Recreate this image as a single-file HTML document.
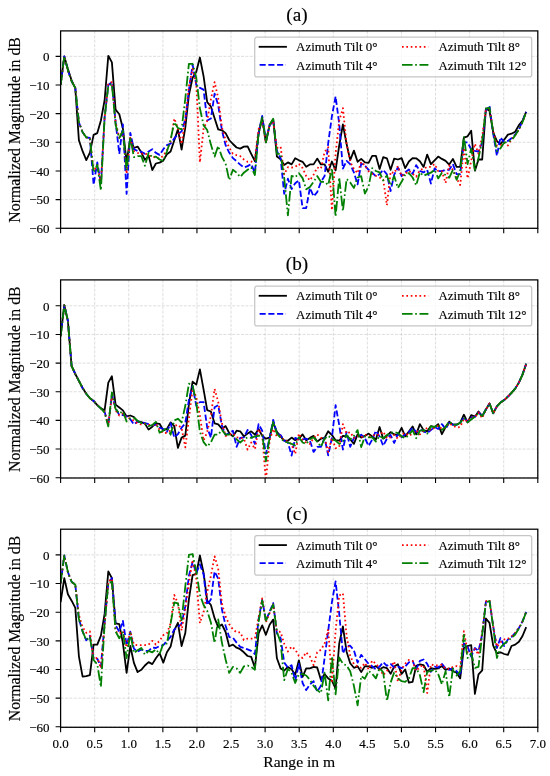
<!DOCTYPE html>
<html lang="en"><head><meta charset="utf-8"><title>Normalized Magnitude vs Range</title>
<style>html,body{margin:0;padding:0;background:#fff}svg{display:block}text{stroke:#000;stroke-width:.16px;stroke-linejoin:round}</style></head>
<body>
<svg width="550" height="776" viewBox="0 0 550 776" font-family='"Liberation Serif", "DejaVu Serif", serif'>
<rect width="550" height="776" fill="#fff"/>
<g>
<clipPath id="cp0"><rect x="60.6" y="30.9" width="477.2" height="197.4"/></clipPath>
<path d="M60.60 30.9V228.3M94.69 30.9V228.3M128.77 30.9V228.3M162.86 30.9V228.3M196.94 30.9V228.3M231.03 30.9V228.3M265.11 30.9V228.3M299.20 30.9V228.3M333.29 30.9V228.3M367.37 30.9V228.3M401.46 30.9V228.3M435.54 30.9V228.3M469.63 30.9V228.3M503.71 30.9V228.3M537.80 30.9V228.3M60.6 56.35H537.8M60.6 85.00H537.8M60.6 113.65H537.8M60.6 142.30H537.8M60.6 170.95H537.8M60.6 199.60H537.8M60.6 228.25H537.8" stroke="#b0b0b0" stroke-opacity="0.6" stroke-width="0.7" stroke-dasharray="3 1.4" fill="none"/>
<g clip-path="url(#cp0)" fill="none" stroke-linejoin="round">
<polyline points="60.6,85.0 64.3,56.4 67.9,69.0 71.6,80.4 75.3,88.4 78.9,140.3 82.6,151.2 86.3,160.1 89.9,152.6 93.6,134.9 97.3,133.1 100.9,120.5 104.6,100.2 108.3,55.8 111.9,62.4 115.6,109.6 119.3,114.2 122.9,128.5 126.6,162.4 130.3,138.0 133.9,148.0 137.6,146.6 141.3,152.3 144.9,159.8 148.6,155.8 152.3,170.1 155.9,163.5 159.6,162.6 163.3,160.6 166.9,154.3 170.6,151.5 174.3,140.3 177.9,129.4 181.6,149.7 185.3,127.7 188.9,95.0 192.6,77.8 196.3,71.8 199.9,57.5 203.6,76.4 207.2,102.2 210.9,106.5 214.6,118.2 218.2,129.4 221.9,130.3 225.6,133.1 229.2,140.0 232.9,144.0 236.6,147.5 240.2,148.6 243.9,146.6 247.6,146.3 251.2,153.8 254.9,161.2 258.6,133.7 262.2,117.9 265.9,142.3 269.6,125.1 273.2,119.4 276.9,156.6 280.6,159.2 284.2,164.9 287.9,162.4 291.6,164.4 295.2,158.3 298.9,160.3 302.6,161.8 306.2,166.7 309.9,164.4 313.6,164.4 317.2,158.6 320.9,164.4 324.6,164.4 328.2,171.8 331.9,161.5 335.6,170.4 339.2,145.5 342.9,124.5 346.6,144.0 350.2,160.1 353.9,150.6 357.6,161.8 361.2,158.9 364.9,162.4 368.6,162.9 372.2,155.8 375.9,155.8 379.6,168.9 383.2,157.2 386.9,158.3 390.6,169.8 394.2,158.6 397.9,159.5 401.6,158.1 405.2,168.1 408.9,161.5 412.6,158.1 416.2,158.3 419.9,161.2 423.6,166.9 427.2,154.6 430.9,164.1 434.6,160.3 438.2,156.6 441.9,158.9 445.6,160.9 449.2,164.6 452.9,158.9 456.6,166.9 460.2,166.9 463.9,137.7 467.6,136.3 471.2,130.8 474.9,170.7 478.5,159.5 482.2,159.5 485.9,108.5 489.5,110.8 493.2,132.3 496.9,141.2 500.5,144.0 504.2,139.7 507.9,134.6 511.5,133.7 515.2,131.7 518.9,125.1 522.5,120.8 526.2,111.9" stroke="#000" stroke-width="1.8"/>
<polyline points="60.6,85.0 64.3,56.4 67.9,70.4 71.6,81.3 75.3,87.9 78.9,122.2 82.6,132.3 86.3,137.4 89.9,138.0 93.6,184.7 97.3,162.4 100.9,183.8 104.6,117.7 108.3,85.0 111.9,82.1 115.6,122.2 119.3,153.8 122.9,124.5 126.6,193.9 130.3,132.8 133.9,149.2 137.6,150.9 141.3,151.8 144.9,153.8 148.6,151.5 152.3,149.2 155.9,152.9 159.6,154.9 163.3,149.2 166.9,145.2 170.6,143.7 174.3,138.3 177.9,134.3 181.6,131.4 185.3,119.4 188.9,90.2 192.6,64.7 196.3,85.0 199.9,87.9 203.6,89.6 207.2,120.5 210.9,118.5 214.6,93.6 218.2,105.1 221.9,130.3 225.6,145.2 229.2,152.6 232.9,158.1 236.6,161.2 240.2,164.6 243.9,167.5 247.6,166.1 251.2,164.1 254.9,172.7 258.6,132.8 262.2,115.9 265.9,140.9 269.6,125.4 273.2,120.2 276.9,150.9 280.6,158.1 284.2,193.9 287.9,178.7 291.6,189.0 295.2,183.3 298.9,180.4 302.6,208.2 306.2,208.2 309.9,187.9 313.6,196.4 317.2,192.2 320.9,181.8 324.6,176.1 328.2,143.2 331.9,116.2 335.6,96.5 339.2,123.7 342.9,168.7 346.6,160.9 350.2,164.1 353.9,172.4 357.6,184.4 361.2,163.5 364.9,165.5 368.6,169.8 372.2,172.7 375.9,176.4 379.6,174.1 383.2,169.8 386.9,174.4 390.6,191.0 394.2,174.7 397.9,167.5 401.6,176.1 405.2,172.4 408.9,169.5 412.6,173.8 416.2,165.2 419.9,171.0 423.6,172.4 427.2,169.8 430.9,183.6 434.6,168.4 438.2,171.2 441.9,171.2 445.6,169.8 449.2,169.8 452.9,164.1 456.6,174.1 460.2,174.1 463.9,142.3 467.6,142.3 471.2,149.5 474.9,150.9 478.5,151.5 482.2,142.3 485.9,110.2 489.5,105.9 493.2,133.7 496.9,155.8 500.5,137.4 504.2,142.6 507.9,140.9 511.5,138.3 515.2,134.3 518.9,129.4 522.5,120.8 526.2,111.9" stroke="#0000ff" stroke-width="1.8" stroke-dasharray="6.1 2.64"/>
<polyline points="60.6,85.0 64.3,56.4 67.9,70.4 71.6,81.3 75.3,87.9 78.9,122.2 82.6,132.3 86.3,137.4 89.9,138.0 93.6,171.0 97.3,165.2 100.9,183.8 104.6,117.7 108.3,83.6 111.9,82.1 115.6,122.2 119.3,137.7 122.9,130.8 126.6,173.8 130.3,138.0 133.9,150.9 137.6,152.9 141.3,153.8 144.9,152.9 148.6,155.8 152.3,156.3 155.9,157.8 159.6,158.6 163.3,155.8 166.9,150.3 170.6,141.4 174.3,118.5 177.9,128.0 181.6,144.0 185.3,119.4 188.9,86.4 192.6,69.0 196.3,83.6 199.9,162.4 203.6,128.5 207.2,120.8 210.9,99.3 214.6,82.1 218.2,98.2 221.9,127.4 225.6,140.0 229.2,147.5 232.9,153.8 236.6,155.2 240.2,156.1 243.9,159.5 247.6,161.8 251.2,161.8 254.9,159.5 258.6,129.1 262.2,121.7 265.9,142.3 269.6,124.8 273.2,121.7 276.9,148.0 280.6,146.6 284.2,174.4 287.9,167.2 291.6,167.5 295.2,166.9 298.9,163.8 302.6,168.1 306.2,176.1 309.9,180.4 313.6,174.7 317.2,167.5 320.9,168.7 324.6,152.0 328.2,147.2 331.9,210.2 335.6,153.8 339.2,120.8 342.9,108.2 346.6,144.0 350.2,161.8 353.9,168.9 357.6,173.2 361.2,161.8 364.9,165.5 368.6,171.2 372.2,173.8 375.9,175.8 379.6,177.5 383.2,179.5 386.9,205.3 390.6,171.8 394.2,173.2 397.9,166.1 401.6,176.1 405.2,173.8 408.9,171.0 412.6,173.8 416.2,176.7 419.9,170.1 423.6,168.7 427.2,166.9 430.9,166.9 434.6,164.1 438.2,171.2 441.9,171.2 445.6,183.0 449.2,165.5 452.9,169.8 456.6,178.4 460.2,185.0 463.9,148.0 467.6,178.4 471.2,160.9 474.9,143.7 478.5,153.8 482.2,136.3 485.9,110.2 489.5,107.9 493.2,131.1 496.9,145.5 500.5,145.5 504.2,142.6 507.9,145.5 511.5,139.4 515.2,135.4 518.9,129.4 522.5,122.2 526.2,111.9" stroke="#ff0000" stroke-width="1.8" stroke-dasharray="1.65 2.72"/>
<polyline points="60.6,85.0 64.3,56.4 67.9,70.4 71.6,81.3 75.3,87.9 78.9,122.2 82.6,132.3 86.3,137.4 89.9,138.0 93.6,172.4 97.3,164.9 100.9,190.4 104.6,117.7 108.3,85.6 111.9,84.1 115.6,125.1 119.3,138.0 122.9,130.8 126.6,170.4 130.3,137.4 133.9,157.2 137.6,156.1 141.3,156.1 144.9,165.8 148.6,152.9 152.3,157.2 155.9,156.6 159.6,159.5 163.3,160.9 166.9,151.5 170.6,139.7 174.3,122.2 177.9,128.0 181.6,129.4 185.3,98.5 188.9,63.8 192.6,63.8 196.3,77.8 199.9,108.2 203.6,125.4 207.2,130.0 210.9,144.6 214.6,156.6 218.2,146.0 221.9,156.9 225.6,163.5 229.2,180.1 232.9,169.8 236.6,172.7 240.2,177.0 243.9,172.7 247.6,169.8 251.2,167.5 254.9,175.0 258.6,133.4 262.2,117.4 265.9,142.3 269.6,124.8 273.2,118.8 276.9,153.8 280.6,153.8 284.2,177.8 287.9,215.4 291.6,175.8 295.2,177.3 298.9,173.2 302.6,178.1 306.2,189.3 309.9,187.0 313.6,181.8 317.2,176.1 320.9,181.8 324.6,181.8 328.2,185.0 331.9,168.1 335.6,216.8 339.2,177.5 342.9,211.1 346.6,179.0 350.2,182.4 353.9,187.9 357.6,177.5 361.2,176.1 364.9,193.6 368.6,186.4 372.2,168.1 375.9,171.0 379.6,172.4 383.2,180.4 386.9,175.5 390.6,185.0 394.2,176.1 397.9,187.9 401.6,181.8 405.2,174.7 408.9,173.2 412.6,177.5 416.2,185.3 419.9,172.4 423.6,175.8 427.2,174.1 430.9,172.7 434.6,169.8 438.2,178.4 441.9,172.7 445.6,175.0 449.2,177.8 452.9,169.8 456.6,179.8 460.2,171.2 463.9,136.3 467.6,164.1 471.2,148.6 474.9,169.8 478.5,158.1 482.2,140.9 485.9,108.5 489.5,107.6 493.2,132.3 496.9,151.2 500.5,148.3 504.2,142.6 507.9,141.7 511.5,140.3 515.2,135.4 518.9,129.4 522.5,122.2 526.2,111.9" stroke="#008000" stroke-width="1.8" stroke-dasharray="10.56 2.64 1.65 2.64"/>
</g>
<rect x="60.6" y="30.9" width="477.2" height="197.4" fill="none" stroke="#000" stroke-width="1.25"/>
<path d="M60.60 228.3v5M94.69 228.3v5M128.77 228.3v5M162.86 228.3v5M196.94 228.3v5M231.03 228.3v5M265.11 228.3v5M299.20 228.3v5M333.29 228.3v5M367.37 228.3v5M401.46 228.3v5M435.54 228.3v5M469.63 228.3v5M503.71 228.3v5M537.80 228.3v5M60.6 56.35h-5M60.6 85.00h-5M60.6 113.65h-5M60.6 142.30h-5M60.6 170.95h-5M60.6 199.60h-5M60.6 228.25h-5" stroke="#000" stroke-width="1.1" fill="none"/>
<g font-size="13" text-anchor="end" fill="#000">
<text x="49.6" y="61.1">0</text>
<text x="49.6" y="89.8">−10</text>
<text x="49.6" y="118.5">−20</text>
<text x="49.6" y="147.1">−30</text>
<text x="49.6" y="175.8">−40</text>
<text x="49.6" y="204.4">−50</text>
<text x="49.6" y="233.1">−60</text>
</g>
<text transform="translate(20.2 129.9) rotate(-90)" text-anchor="middle" font-size="15.8">Normalized Magnitude in dB</text>
<text x="297.0" y="21.2" text-anchor="middle" font-size="19.2">(a)</text>
<rect x="254.7" y="37.2" width="277.0" height="39.7" rx="2.2" fill="#fff" fill-opacity="0.8" stroke="#c6c6c6" stroke-width="1.25"/>
<g font-size="12.95" fill="#000">
<path d="M259.6 46.8h26.4" stroke="#000" stroke-width="1.8" stroke-linecap="square" fill="none"/>
<text x="296.1" y="51.4">Azimuth Tilt 0°</text>
<path d="M259.6 64.9h26.4" stroke="#0000ff" stroke-width="1.8" stroke-dasharray="6.1 2.64" fill="none"/>
<text x="296.1" y="69.5">Azimuth Tilt 4°</text>
<path d="M402.0 46.8h26.4" stroke="#ff0000" stroke-width="1.8" stroke-dasharray="1.65 2.72" fill="none"/>
<text x="438.5" y="51.4">Azimuth Tilt 8°</text>
<path d="M402.0 64.9h26.4" stroke="#008000" stroke-width="1.8" stroke-dasharray="10.56 2.64 1.65 2.64" fill="none"/>
<text x="438.5" y="69.5">Azimuth Tilt 12°</text>
</g>
</g>
<g>
<clipPath id="cp1"><rect x="60.6" y="279.9" width="477.2" height="198.1"/></clipPath>
<path d="M60.60 279.9V478.0M94.69 279.9V478.0M128.77 279.9V478.0M162.86 279.9V478.0M196.94 279.9V478.0M231.03 279.9V478.0M265.11 279.9V478.0M299.20 279.9V478.0M333.29 279.9V478.0M367.37 279.9V478.0M401.46 279.9V478.0M435.54 279.9V478.0M469.63 279.9V478.0M503.71 279.9V478.0M537.80 279.9V478.0M60.6 305.80H537.8M60.6 334.45H537.8M60.6 363.10H537.8M60.6 391.75H537.8M60.6 420.40H537.8M60.6 449.05H537.8M60.6 477.70H537.8" stroke="#b0b0b0" stroke-opacity="0.6" stroke-width="0.7" stroke-dasharray="3 1.4" fill="none"/>
<g clip-path="url(#cp1)" fill="none" stroke-linejoin="round">
<polyline points="60.6,336.2 64.3,305.2 67.9,321.0 71.6,366.0 75.3,374.0 78.9,380.9 82.6,388.0 86.3,393.8 89.9,398.3 93.6,400.9 97.3,405.2 100.9,408.4 104.6,410.4 108.3,382.6 111.9,376.3 115.6,404.6 119.3,407.5 122.9,410.4 126.6,416.4 130.3,415.5 133.9,417.0 137.6,421.5 141.3,422.1 144.9,423.6 148.6,429.6 152.3,426.7 155.9,423.3 159.6,423.8 163.3,430.4 166.9,429.0 170.6,422.4 174.3,426.1 177.9,447.9 181.6,437.6 185.3,435.6 188.9,404.4 192.6,381.7 196.3,384.6 199.9,369.4 203.6,389.7 207.2,410.1 210.9,411.5 214.6,423.3 218.2,424.4 221.9,428.7 225.6,426.1 229.2,433.0 232.9,436.4 236.6,430.7 240.2,431.3 243.9,436.4 247.6,433.6 251.2,431.3 254.9,434.7 258.6,429.0 262.2,435.9 265.9,438.7 269.6,437.6 273.2,422.7 276.9,431.9 280.6,436.4 284.2,440.7 287.9,440.7 291.6,437.6 295.2,440.2 298.9,438.7 302.6,434.4 306.2,440.2 309.9,437.9 313.6,435.9 317.2,441.6 320.9,438.7 324.6,437.9 328.2,431.3 331.9,435.0 335.6,440.2 339.2,440.7 342.9,435.9 346.6,436.4 350.2,439.3 353.9,443.9 357.6,434.4 361.2,437.6 364.9,435.9 368.6,433.6 372.2,436.4 375.9,439.6 379.6,427.0 383.2,438.7 386.9,435.9 390.6,432.1 394.2,434.4 397.9,435.0 401.6,427.8 405.2,436.4 408.9,431.6 412.6,426.4 416.2,434.4 419.9,424.1 423.6,430.1 427.2,431.3 430.9,426.1 434.6,427.0 438.2,424.1 441.9,434.2 445.6,427.0 449.2,421.8 452.9,424.7 456.6,424.7 460.2,422.7 463.9,414.7 467.6,422.4 471.2,415.2 474.9,416.7 478.5,411.5 482.2,416.1 485.9,409.5 489.5,403.5 493.2,413.2 496.9,406.4 500.5,402.6 504.2,400.1 507.9,396.6 511.5,392.9 515.2,388.6 518.9,382.6 522.5,374.6 526.2,363.7" stroke="#000" stroke-width="1.8"/>
<polyline points="60.6,336.2 64.3,305.2 67.9,321.0 71.6,366.0 75.3,374.0 78.9,380.9 82.6,388.0 86.3,393.8 89.9,398.3 93.6,400.9 97.3,405.2 100.9,408.4 104.6,411.8 108.3,425.0 111.9,394.6 115.6,408.4 119.3,415.0 122.9,415.0 126.6,416.4 130.3,419.3 133.9,424.4 137.6,421.5 141.3,422.1 144.9,423.0 148.6,424.1 152.3,425.3 155.9,424.7 159.6,427.6 163.3,429.0 166.9,431.9 170.6,423.3 174.3,437.6 177.9,434.2 181.6,427.6 185.3,423.3 188.9,399.8 192.6,386.0 196.3,405.8 199.9,402.1 203.6,402.1 207.2,427.6 210.9,437.6 214.6,407.2 218.2,405.2 221.9,425.6 225.6,435.0 229.2,433.0 232.9,430.7 236.6,446.8 240.2,437.9 243.9,437.3 247.6,429.9 251.2,435.0 254.9,443.9 258.6,424.1 262.2,430.7 265.9,453.9 269.6,437.9 273.2,419.8 276.9,433.6 280.6,435.0 284.2,440.7 287.9,442.5 291.6,455.6 295.2,437.9 298.9,439.3 302.6,439.3 306.2,438.7 309.9,440.7 313.6,451.9 317.2,446.8 320.9,446.8 324.6,437.9 328.2,455.4 331.9,437.9 335.6,405.2 339.2,425.0 342.9,449.6 346.6,432.1 350.2,446.8 353.9,437.9 357.6,436.4 361.2,434.7 364.9,438.2 368.6,445.9 372.2,439.6 375.9,430.7 379.6,436.4 383.2,445.9 386.9,438.7 390.6,435.0 394.2,443.0 397.9,433.6 401.6,437.3 405.2,434.4 408.9,432.1 412.6,427.8 416.2,432.1 419.9,429.3 423.6,431.6 427.2,433.0 430.9,430.1 434.6,427.0 438.2,429.0 441.9,424.1 445.6,429.0 449.2,422.7 452.9,424.7 456.6,424.7 460.2,422.7 463.9,417.5 467.6,421.8 471.2,417.5 474.9,416.7 478.5,412.4 482.2,416.1 485.9,409.5 489.5,403.5 493.2,413.2 496.9,406.4 500.5,402.6 504.2,400.1 507.9,396.6 511.5,392.9 515.2,388.6 518.9,382.6 522.5,374.6 526.2,363.7" stroke="#0000ff" stroke-width="1.8" stroke-dasharray="6.1 2.64"/>
<polyline points="60.6,336.2 64.3,305.2 67.9,321.0 71.6,366.0 75.3,374.0 78.9,380.9 82.6,388.0 86.3,393.8 89.9,398.3 93.6,400.9 97.3,405.2 100.9,408.4 104.6,411.8 108.3,425.0 111.9,395.2 115.6,410.4 119.3,415.5 122.9,413.5 126.6,417.8 130.3,418.4 133.9,420.7 137.6,423.6 141.3,424.4 144.9,423.6 148.6,424.7 152.3,425.3 155.9,423.8 159.6,429.9 163.3,433.3 166.9,432.7 170.6,430.4 174.3,426.1 177.9,424.7 181.6,428.1 185.3,447.3 188.9,418.7 192.6,388.9 196.3,396.9 199.9,415.8 203.6,440.5 207.2,431.9 210.9,415.8 214.6,388.9 218.2,401.8 221.9,423.3 225.6,435.9 229.2,434.4 232.9,433.6 236.6,437.3 240.2,437.9 243.9,438.7 247.6,449.6 251.2,442.5 254.9,449.1 258.6,429.0 262.2,435.0 265.9,480.6 269.6,440.7 273.2,429.0 276.9,436.4 280.6,436.4 284.2,440.7 287.9,441.6 291.6,444.5 295.2,453.9 298.9,433.6 302.6,440.2 306.2,442.5 309.9,443.9 313.6,437.9 317.2,434.4 320.9,437.9 324.6,437.9 328.2,451.9 331.9,437.9 335.6,448.2 339.2,446.8 342.9,424.1 346.6,433.6 350.2,432.1 353.9,437.9 357.6,435.9 361.2,437.6 364.9,434.7 368.6,436.4 372.2,435.9 375.9,434.4 379.6,435.0 383.2,431.6 386.9,438.2 390.6,437.3 394.2,435.0 397.9,438.7 401.6,434.4 405.2,433.0 408.9,435.9 412.6,433.6 416.2,430.1 419.9,434.4 423.6,430.7 427.2,427.8 430.9,430.1 434.6,427.8 438.2,425.6 441.9,429.0 445.6,427.6 449.2,423.3 452.9,425.6 456.6,427.6 460.2,427.0 463.9,419.0 467.6,421.8 471.2,417.5 474.9,417.2 478.5,412.4 482.2,418.1 485.9,409.5 489.5,403.5 493.2,413.2 496.9,406.4 500.5,402.6 504.2,400.1 507.9,396.6 511.5,392.9 515.2,388.6 518.9,382.6 522.5,374.6 526.2,363.7" stroke="#ff0000" stroke-width="1.8" stroke-dasharray="1.65 2.72"/>
<polyline points="60.6,336.2 64.3,305.2 67.9,321.0 71.6,366.0 75.3,374.0 78.9,380.9 82.6,388.0 86.3,393.8 89.9,398.3 93.6,400.9 97.3,405.2 100.9,408.4 104.6,412.7 108.3,426.4 111.9,392.3 115.6,408.9 119.3,413.5 122.9,411.2 126.6,421.5 130.3,418.4 133.9,417.8 137.6,420.7 141.3,423.0 144.9,423.6 148.6,426.1 152.3,425.0 155.9,421.8 159.6,432.7 163.3,430.4 166.9,427.6 170.6,434.7 174.3,420.4 177.9,418.7 181.6,422.4 185.3,405.8 188.9,383.7 192.6,385.2 196.3,402.6 199.9,431.9 203.6,442.2 207.2,446.5 210.9,442.2 214.6,434.7 218.2,434.7 221.9,429.9 225.6,434.7 229.2,434.4 232.9,435.9 236.6,439.3 240.2,442.5 243.9,439.3 247.6,437.3 251.2,437.9 254.9,436.4 258.6,435.9 262.2,434.4 265.9,461.4 269.6,437.6 273.2,421.8 276.9,433.6 280.6,437.9 284.2,441.6 287.9,442.5 291.6,443.9 295.2,445.3 298.9,437.3 302.6,442.5 306.2,443.9 309.9,439.3 313.6,437.3 317.2,441.6 320.9,446.8 324.6,438.7 328.2,435.9 331.9,438.7 335.6,440.7 339.2,443.9 342.9,441.6 346.6,435.0 350.2,439.3 353.9,435.9 357.6,430.1 361.2,447.0 364.9,436.4 368.6,437.3 372.2,437.3 375.9,441.6 379.6,435.9 383.2,438.2 386.9,435.0 390.6,433.0 394.2,432.1 397.9,433.0 401.6,436.4 405.2,438.2 408.9,435.0 412.6,430.1 416.2,438.2 419.9,430.7 423.6,430.1 427.2,433.6 430.9,426.4 434.6,427.0 438.2,424.7 441.9,429.9 445.6,427.0 449.2,421.8 452.9,424.7 456.6,424.7 460.2,422.7 463.9,418.1 467.6,422.4 471.2,419.5 474.9,416.7 478.5,413.2 482.2,416.1 485.9,409.5 489.5,403.5 493.2,413.2 496.9,406.4 500.5,402.6 504.2,400.1 507.9,396.6 511.5,392.9 515.2,388.6 518.9,382.6 522.5,374.6 526.2,363.7" stroke="#008000" stroke-width="1.8" stroke-dasharray="10.56 2.64 1.65 2.64"/>
</g>
<rect x="60.6" y="279.9" width="477.2" height="198.1" fill="none" stroke="#000" stroke-width="1.25"/>
<path d="M60.60 478.0v5M94.69 478.0v5M128.77 478.0v5M162.86 478.0v5M196.94 478.0v5M231.03 478.0v5M265.11 478.0v5M299.20 478.0v5M333.29 478.0v5M367.37 478.0v5M401.46 478.0v5M435.54 478.0v5M469.63 478.0v5M503.71 478.0v5M537.80 478.0v5M60.6 305.80h-5M60.6 334.45h-5M60.6 363.10h-5M60.6 391.75h-5M60.6 420.40h-5M60.6 449.05h-5M60.6 477.70h-5" stroke="#000" stroke-width="1.1" fill="none"/>
<g font-size="13" text-anchor="end" fill="#000">
<text x="49.6" y="310.6">0</text>
<text x="49.6" y="339.2">−10</text>
<text x="49.6" y="367.9">−20</text>
<text x="49.6" y="396.6">−30</text>
<text x="49.6" y="425.2">−40</text>
<text x="49.6" y="453.9">−50</text>
<text x="49.6" y="482.5">−60</text>
</g>
<text transform="translate(20.2 379.2) rotate(-90)" text-anchor="middle" font-size="15.8">Normalized Magnitude in dB</text>
<text x="297.0" y="270.2" text-anchor="middle" font-size="19.2">(b)</text>
<rect x="254.7" y="286.2" width="277.0" height="39.7" rx="2.2" fill="#fff" fill-opacity="0.8" stroke="#c6c6c6" stroke-width="1.25"/>
<g font-size="12.95" fill="#000">
<path d="M259.6 295.8h26.4" stroke="#000" stroke-width="1.8" stroke-linecap="square" fill="none"/>
<text x="296.1" y="300.4">Azimuth Tilt 0°</text>
<path d="M259.6 313.9h26.4" stroke="#0000ff" stroke-width="1.8" stroke-dasharray="6.1 2.64" fill="none"/>
<text x="296.1" y="318.6">Azimuth Tilt 4°</text>
<path d="M402.0 295.8h26.4" stroke="#ff0000" stroke-width="1.8" stroke-dasharray="1.65 2.72" fill="none"/>
<text x="438.5" y="300.4">Azimuth Tilt 8°</text>
<path d="M402.0 313.9h26.4" stroke="#008000" stroke-width="1.8" stroke-dasharray="10.56 2.64 1.65 2.64" fill="none"/>
<text x="438.5" y="318.6">Azimuth Tilt 12°</text>
</g>
</g>
<g>
<clipPath id="cp2"><rect x="60.6" y="529.2" width="477.2" height="198.1"/></clipPath>
<path d="M60.60 529.2V727.3M94.69 529.2V727.3M128.77 529.2V727.3M162.86 529.2V727.3M196.94 529.2V727.3M231.03 529.2V727.3M265.11 529.2V727.3M299.20 529.2V727.3M333.29 529.2V727.3M367.37 529.2V727.3M401.46 529.2V727.3M435.54 529.2V727.3M469.63 529.2V727.3M503.71 529.2V727.3M537.80 529.2V727.3M60.6 554.90H537.8M60.6 583.55H537.8M60.6 612.20H537.8M60.6 640.85H537.8M60.6 669.50H537.8M60.6 698.15H537.8M60.6 726.80H537.8" stroke="#b0b0b0" stroke-opacity="0.6" stroke-width="0.7" stroke-dasharray="3 1.4" fill="none"/>
<g clip-path="url(#cp2)" fill="none" stroke-linejoin="round">
<polyline points="60.6,602.2 64.3,578.1 67.9,594.2 71.6,600.7 75.3,607.9 78.9,656.3 82.6,676.7 86.3,676.1 89.9,675.2 93.6,644.6 97.3,644.6 100.9,635.7 104.6,613.9 108.3,571.5 111.9,578.1 115.6,623.4 119.3,624.2 122.9,643.1 126.6,672.9 130.3,646.0 133.9,662.9 137.6,672.1 141.3,669.8 144.9,665.5 148.6,662.1 152.3,664.1 155.9,658.3 159.6,653.2 163.3,662.6 166.9,652.3 170.6,646.6 174.3,630.2 177.9,622.8 181.6,646.0 185.3,633.1 188.9,599.3 192.6,575.2 196.3,573.8 199.9,555.5 203.6,572.9 207.2,600.7 210.9,605.0 214.6,618.2 218.2,627.1 221.9,624.5 225.6,632.0 229.2,646.3 232.9,644.6 236.6,647.7 240.2,649.2 243.9,652.3 247.6,656.0 251.2,656.9 254.9,667.8 258.6,633.4 262.2,625.4 265.9,634.8 269.6,624.8 273.2,619.6 276.9,658.3 280.6,668.4 284.2,670.6 287.9,666.9 291.6,669.2 295.2,674.7 298.9,660.3 302.6,676.9 306.2,668.4 309.9,668.4 313.6,666.9 317.2,667.5 320.9,679.8 324.6,674.1 328.2,678.4 331.9,680.7 335.6,688.7 339.2,643.7 342.9,626.5 346.6,651.7 350.2,663.2 353.9,667.8 357.6,666.3 361.2,672.1 364.9,666.1 368.6,666.3 372.2,667.8 375.9,666.1 379.6,669.2 383.2,667.2 386.9,668.1 390.6,673.8 394.2,666.6 397.9,664.3 401.6,673.8 405.2,669.5 408.9,682.7 412.6,681.8 416.2,665.8 419.9,664.3 423.6,665.2 427.2,671.8 430.9,668.1 434.6,668.9 438.2,668.4 441.9,666.1 445.6,669.8 449.2,668.4 452.9,671.2 456.6,672.7 460.2,678.4 463.9,648.0 467.6,646.0 471.2,645.1 474.9,693.9 478.5,674.4 482.2,670.4 485.9,618.5 489.5,622.8 493.2,645.7 496.9,653.5 500.5,652.3 504.2,654.0 507.9,654.9 511.5,646.0 515.2,644.6 518.9,641.7 522.5,636.0 526.2,627.1" stroke="#000" stroke-width="1.8"/>
<polyline points="60.6,583.3 64.3,555.5 67.9,572.1 71.6,581.8 75.3,584.7 78.9,619.1 82.6,631.4 86.3,640.3 89.9,635.7 93.6,658.6 97.3,658.6 100.9,666.6 104.6,622.8 108.3,583.3 111.9,578.1 115.6,625.4 119.3,631.7 122.9,620.8 126.6,645.1 130.3,631.7 133.9,648.6 137.6,651.7 141.3,649.4 144.9,650.9 148.6,650.9 152.3,647.4 155.9,648.0 159.6,646.0 163.3,645.1 166.9,640.9 170.6,636.8 174.3,629.4 177.9,627.1 181.6,623.7 185.3,606.2 188.9,575.8 192.6,562.1 196.3,572.9 199.9,564.4 203.6,574.4 207.2,605.0 210.9,599.3 214.6,571.5 218.2,578.7 221.9,609.3 225.6,625.7 229.2,637.1 232.9,637.7 236.6,642.6 240.2,646.9 243.9,648.0 247.6,649.4 251.2,650.9 254.9,654.0 258.6,619.1 262.2,599.9 265.9,620.5 269.6,611.6 273.2,603.0 276.9,633.4 280.6,638.0 284.2,662.6 287.9,667.5 291.6,665.2 295.2,680.7 298.9,663.8 302.6,683.0 306.2,690.1 309.9,684.4 313.6,681.2 317.2,691.6 320.9,685.8 324.6,658.0 328.2,630.8 331.9,602.2 335.6,581.5 339.2,613.6 342.9,653.5 346.6,646.0 350.2,645.7 353.9,650.3 357.6,662.6 361.2,654.9 364.9,659.2 368.6,663.8 372.2,666.3 375.9,669.2 379.6,666.6 383.2,662.1 386.9,665.8 390.6,663.8 394.2,667.5 397.9,666.6 401.6,668.1 405.2,666.6 408.9,662.3 412.6,660.9 416.2,669.5 419.9,660.9 423.6,659.5 427.2,663.8 430.9,671.8 434.6,666.6 438.2,667.5 441.9,663.8 445.6,668.4 449.2,669.8 452.9,668.4 456.6,671.2 460.2,675.5 463.9,643.4 467.6,646.6 471.2,656.6 474.9,648.0 478.5,650.9 482.2,634.3 485.9,601.6 489.5,600.7 493.2,626.2 496.9,648.0 500.5,638.0 504.2,646.0 507.9,639.4 511.5,637.1 515.2,632.8 518.9,628.0 522.5,621.4 526.2,611.9" stroke="#0000ff" stroke-width="1.8" stroke-dasharray="6.1 2.64"/>
<polyline points="60.6,583.3 64.3,555.5 67.9,572.1 71.6,581.8 75.3,584.7 78.9,615.1 82.6,627.1 86.3,632.8 89.9,631.4 93.6,659.2 97.3,657.8 100.9,668.1 104.6,625.1 108.3,581.8 111.9,578.7 115.6,631.4 119.3,633.7 122.9,631.1 126.6,647.4 130.3,631.4 133.9,644.6 137.6,645.1 141.3,645.1 144.9,645.1 148.6,644.6 152.3,640.9 155.9,644.6 159.6,640.9 163.3,635.1 166.9,633.4 170.6,623.4 174.3,595.0 177.9,603.3 181.6,630.5 185.3,609.3 188.9,583.5 192.6,559.8 196.3,578.7 199.9,623.1 203.6,612.2 207.2,591.9 210.9,575.8 214.6,556.3 218.2,568.7 221.9,603.6 225.6,616.5 229.2,624.2 232.9,629.4 236.6,632.3 240.2,632.3 243.9,640.0 247.6,638.6 251.2,638.6 254.9,638.6 258.6,617.4 262.2,598.4 265.9,622.5 269.6,613.1 273.2,604.5 276.9,631.4 280.6,632.0 284.2,643.7 287.9,651.5 291.6,646.6 295.2,649.4 298.9,656.0 302.6,658.0 306.2,652.3 309.9,656.6 313.6,665.2 317.2,652.3 320.9,649.7 324.6,643.7 328.2,629.4 331.9,681.2 335.6,630.8 339.2,595.6 342.9,593.3 346.6,636.0 350.2,655.7 353.9,664.3 357.6,666.6 361.2,667.8 364.9,662.9 368.6,669.2 372.2,660.6 375.9,663.8 379.6,668.1 383.2,675.2 386.9,670.9 390.6,667.5 394.2,661.5 397.9,681.8 401.6,669.5 405.2,663.8 408.9,660.0 412.6,660.9 416.2,670.9 419.9,666.6 423.6,665.2 427.2,693.0 430.9,664.3 434.6,665.5 438.2,665.5 441.9,664.6 445.6,668.4 449.2,668.9 452.9,666.9 456.6,666.1 460.2,666.9 463.9,631.1 467.6,652.3 471.2,652.3 474.9,648.9 478.5,654.6 482.2,632.3 485.9,601.3 489.5,599.9 493.2,626.2 496.9,646.6 500.5,642.3 504.2,639.4 507.9,638.8 511.5,636.6 515.2,632.8 518.9,628.0 522.5,621.4 526.2,611.9" stroke="#ff0000" stroke-width="1.8" stroke-dasharray="1.65 2.72"/>
<polyline points="60.6,583.3 64.3,555.5 67.9,572.1 71.6,581.8 75.3,584.7 78.9,619.1 82.6,631.4 86.3,640.3 89.9,636.8 93.6,660.0 97.3,664.3 100.9,687.0 104.6,624.2 108.3,583.3 111.9,581.8 115.6,631.4 119.3,638.3 122.9,631.7 126.6,658.0 130.3,633.4 133.9,652.9 137.6,650.3 141.3,648.0 144.9,654.6 148.6,650.9 152.3,652.3 155.9,649.4 159.6,654.0 163.3,643.7 166.9,643.7 170.6,623.7 174.3,602.5 177.9,603.3 181.6,620.2 185.3,586.4 188.9,554.9 192.6,554.0 196.3,571.5 199.9,594.7 203.6,605.0 207.2,610.8 210.9,622.5 214.6,642.9 218.2,619.4 221.9,642.6 225.6,659.5 229.2,672.9 232.9,666.9 236.6,668.4 240.2,672.9 243.9,666.3 247.6,665.5 251.2,666.9 254.9,669.8 258.6,621.9 262.2,600.7 265.9,620.5 269.6,612.5 273.2,604.5 276.9,632.0 280.6,642.3 284.2,680.1 287.9,668.9 291.6,672.9 295.2,683.0 298.9,674.1 302.6,674.1 306.2,675.5 309.9,679.8 313.6,685.8 317.2,690.1 320.9,693.0 324.6,672.7 328.2,700.4 331.9,656.6 335.6,694.4 339.2,657.5 342.9,663.8 346.6,665.5 350.2,671.2 353.9,685.8 357.6,705.3 361.2,676.1 364.9,678.7 368.6,670.9 372.2,673.8 375.9,678.4 379.6,668.1 383.2,672.4 386.9,701.0 390.6,682.7 394.2,672.4 397.9,678.4 401.6,681.2 405.2,681.8 408.9,678.4 412.6,668.1 416.2,668.1 419.9,675.2 423.6,692.1 427.2,671.8 430.9,670.9 434.6,669.5 438.2,674.1 441.9,684.4 445.6,671.2 449.2,697.3 452.9,668.4 456.6,675.5 460.2,671.2 463.9,634.8 467.6,658.0 471.2,653.2 474.9,667.8 478.5,666.9 482.2,634.3 485.9,602.2 489.5,601.0 493.2,626.8 496.9,658.0 500.5,647.7 504.2,643.7 507.9,640.9 511.5,638.0 515.2,634.5 518.9,628.5 522.5,621.9 526.2,611.9" stroke="#008000" stroke-width="1.8" stroke-dasharray="10.56 2.64 1.65 2.64"/>
</g>
<rect x="60.6" y="529.2" width="477.2" height="198.1" fill="none" stroke="#000" stroke-width="1.25"/>
<path d="M60.60 727.3v5M94.69 727.3v5M128.77 727.3v5M162.86 727.3v5M196.94 727.3v5M231.03 727.3v5M265.11 727.3v5M299.20 727.3v5M333.29 727.3v5M367.37 727.3v5M401.46 727.3v5M435.54 727.3v5M469.63 727.3v5M503.71 727.3v5M537.80 727.3v5M60.6 554.90h-5M60.6 583.55h-5M60.6 612.20h-5M60.6 640.85h-5M60.6 669.50h-5M60.6 698.15h-5M60.6 726.80h-5" stroke="#000" stroke-width="1.1" fill="none"/>
<g font-size="13" text-anchor="end" fill="#000">
<text x="49.6" y="559.7">0</text>
<text x="49.6" y="588.3">−10</text>
<text x="49.6" y="617.0">−20</text>
<text x="49.6" y="645.6">−30</text>
<text x="49.6" y="674.3">−40</text>
<text x="49.6" y="702.9">−50</text>
<text x="49.6" y="731.6">−60</text>
</g>
<text transform="translate(20.2 628.5) rotate(-90)" text-anchor="middle" font-size="15.8">Normalized Magnitude in dB</text>
<text x="297.0" y="519.5" text-anchor="middle" font-size="19.2">(c)</text>
<rect x="254.7" y="535.5" width="277.0" height="39.7" rx="2.2" fill="#fff" fill-opacity="0.8" stroke="#c6c6c6" stroke-width="1.25"/>
<g font-size="12.95" fill="#000">
<path d="M259.6 545.1h26.4" stroke="#000" stroke-width="1.8" stroke-linecap="square" fill="none"/>
<text x="296.1" y="549.7">Azimuth Tilt 0°</text>
<path d="M259.6 563.2h26.4" stroke="#0000ff" stroke-width="1.8" stroke-dasharray="6.1 2.64" fill="none"/>
<text x="296.1" y="567.9">Azimuth Tilt 4°</text>
<path d="M402.0 545.1h26.4" stroke="#ff0000" stroke-width="1.8" stroke-dasharray="1.65 2.72" fill="none"/>
<text x="438.5" y="549.7">Azimuth Tilt 8°</text>
<path d="M402.0 563.2h26.4" stroke="#008000" stroke-width="1.8" stroke-dasharray="10.56 2.64 1.65 2.64" fill="none"/>
<text x="438.5" y="567.9">Azimuth Tilt 12°</text>
</g>
</g>
<g font-size="13" text-anchor="middle" fill="#000">
<text x="60.6" y="747.6">0.0</text>
<text x="94.7" y="747.6">0.5</text>
<text x="128.8" y="747.6">1.0</text>
<text x="162.9" y="747.6">1.5</text>
<text x="196.9" y="747.6">2.0</text>
<text x="231.0" y="747.6">2.5</text>
<text x="265.1" y="747.6">3.0</text>
<text x="299.2" y="747.6">3.5</text>
<text x="333.3" y="747.6">4.0</text>
<text x="367.4" y="747.6">4.5</text>
<text x="401.5" y="747.6">5.0</text>
<text x="435.5" y="747.6">5.5</text>
<text x="469.6" y="747.6">6.0</text>
<text x="503.7" y="747.6">6.5</text>
<text x="537.8" y="747.6">7.0</text>
</g>
<text x="299.2" y="766.9" text-anchor="middle" font-size="15.6">Range in m</text>
</svg>
</body></html>
